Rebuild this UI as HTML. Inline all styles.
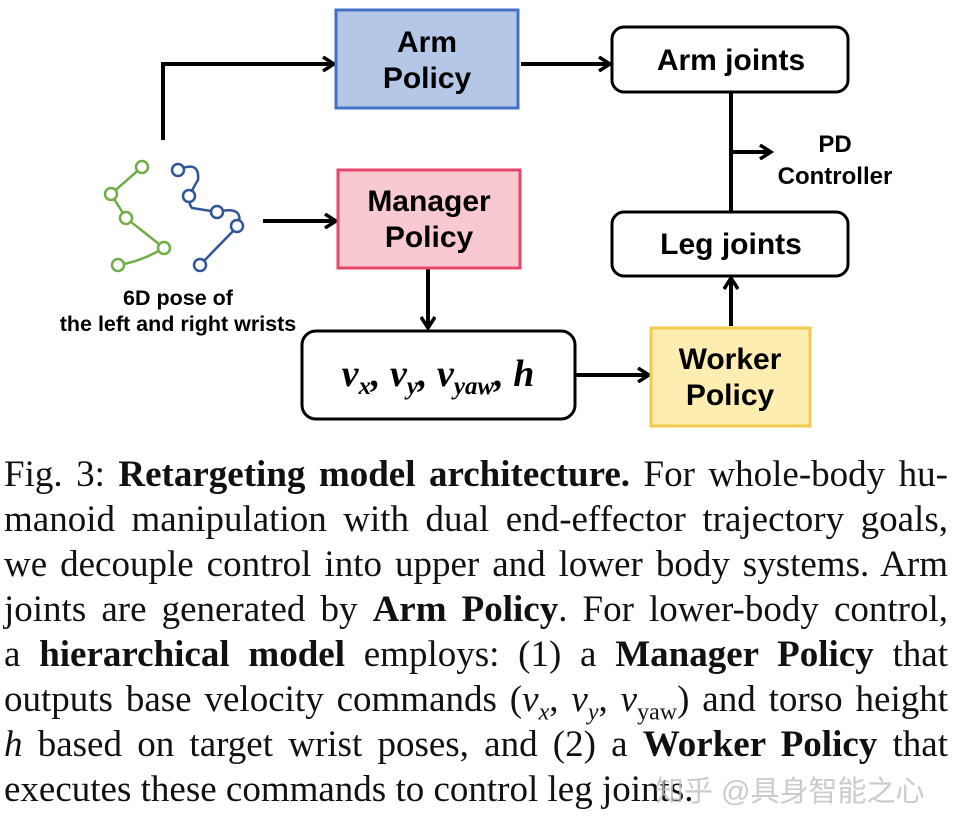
<!DOCTYPE html><html><head><style>
body{margin:0;width:958px;height:822px;background:#fff;overflow:hidden;position:relative}
.cap{position:absolute;left:4px;top:452px;width:944px;font-family:"Liberation Serif",serif;font-size:37px;line-height:45px;text-align:justify;color:#111}
.cap p{margin:0;text-align-last:justify;white-space:nowrap;height:45px}
.cap p.l{text-align-last:left}
.cap sub{font-size:24px;line-height:0}
.wm{position:absolute;left:655px;top:768px;font-family:"Liberation Sans","Noto Sans CJK SC",sans-serif;font-size:29px;color:rgba(190,190,190,0.8)}
</style></head><body>
<svg width="958" height="450" style="position:absolute;left:0;top:0" font-family="Liberation Sans, DejaVu Sans, sans-serif" font-weight="bold">
<defs><marker id="a" markerWidth="16" markerHeight="16" refX="12" refY="8" orient="auto" markerUnits="userSpaceOnUse"><path d="M2,1 L13,8 L2,15" fill="none" stroke="#000" stroke-width="3.5"/></marker></defs>
<g stroke="#000" stroke-width="4" fill="none">
<path d="M163,140 V64 H333" marker-end="url(#a)"/>
<path d="M263,221 H335" marker-end="url(#a)"/>
<path d="M521,64 H609" marker-end="url(#a)"/>
<path d="M428,268 V327" marker-end="url(#a)"/>
<path d="M576,375 H648" marker-end="url(#a)"/>
<path d="M731,326 V279" marker-end="url(#a)"/>
<path d="M731,212 V92"/>
<path d="M731,152 H770" marker-end="url(#a)"/>
</g>
<rect x="336" y="10" width="182" height="98" fill="#b4c7e7" stroke="#4472c4" stroke-width="3"/>
<rect x="338" y="170" width="182" height="98" fill="#f8c9d1" stroke="#e8476b" stroke-width="3"/>
<rect x="651" y="328" width="159" height="98" fill="#fdedb0" stroke="#f2c94c" stroke-width="3"/>
<rect x="612" y="27" width="236" height="65" rx="12" fill="#fff" stroke="#000" stroke-width="3"/>
<rect x="612" y="212" width="236" height="64" rx="12" fill="#fff" stroke="#000" stroke-width="3"/>
<rect x="302" y="331" width="273" height="88" rx="14" fill="#fff" stroke="#000" stroke-width="3"/>
<g font-size="30" text-anchor="middle" fill="#000">
<text x="427" y="52">Arm</text><text x="427" y="88">Policy</text>
<text x="429" y="211">Manager</text><text x="429" y="247">Policy</text>
<text x="730" y="369">Worker</text><text x="730" y="405">Policy</text>
<text x="731" y="70">Arm joints</text>
<text x="731" y="254">Leg joints</text>
</g>
<g font-size="24" text-anchor="middle"><text x="835" y="152">PD</text><text x="835" y="184">Controller</text></g>
<g font-size="21.5" text-anchor="middle"><text x="178" y="305">6D pose of</text><text x="178" y="331">the left and right wrists</text></g>
<text x="438" y="386" font-family="Liberation Serif, serif" font-style="italic" font-size="38" text-anchor="middle">v<tspan font-size="25" dy="8">x</tspan><tspan dy="-8">, v</tspan><tspan font-size="25" dy="8">y</tspan><tspan dy="-8">, v</tspan><tspan font-size="25" dy="8">yaw</tspan><tspan dy="-8">, h</tspan></text>
<g fill="none" stroke-width="2.5">
<path d="M142,167 L111,194 L126,218 L164,248 Q140,262 118,265" stroke="#70ad47"/>
<g stroke="#70ad47" fill="#fff"><circle cx="142" cy="167" r="6"/><circle cx="111" cy="194" r="6"/><circle cx="126" cy="218" r="6"/><circle cx="164" cy="248" r="6"/><circle cx="118" cy="265" r="6"/></g>
<path d="M178,170 Q200,160 198,180 Q185,200 192,208 L217,212 Q245,205 238,226 L200,265" stroke="#2f5597"/>
<g stroke="#2f5597" fill="#fff"><circle cx="178" cy="170" r="6"/><circle cx="189" cy="196" r="6"/><circle cx="217" cy="212" r="6"/><circle cx="237" cy="226" r="6"/><circle cx="200" cy="265" r="6"/></g>
</g>
</svg>
<div class="cap">
<p>Fig. 3: <b>Retargeting model architecture.</b> For whole-body hu-</p>
<p>manoid manipulation with dual end-effector trajectory goals,</p>
<p>we decouple control into upper and lower body systems. Arm</p>
<p>joints are generated by <b>Arm Policy</b>. For lower-body control,</p>
<p>a <b>hierarchical model</b> employs: (1) a <b>Manager Policy</b> that</p>
<p>outputs base velocity commands (<i>v<sub>x</sub></i>, <i>v<sub>y</sub></i>, <i>v</i><sub>yaw</sub>) and torso height</p>
<p><i>h</i> based on target wrist poses, and (2) a <b>Worker Policy</b> that</p>
<p class="l">executes these commands to control leg joints.</p>
</div>
<div class="wm">知乎 @具身智能之心</div>
</body></html>
